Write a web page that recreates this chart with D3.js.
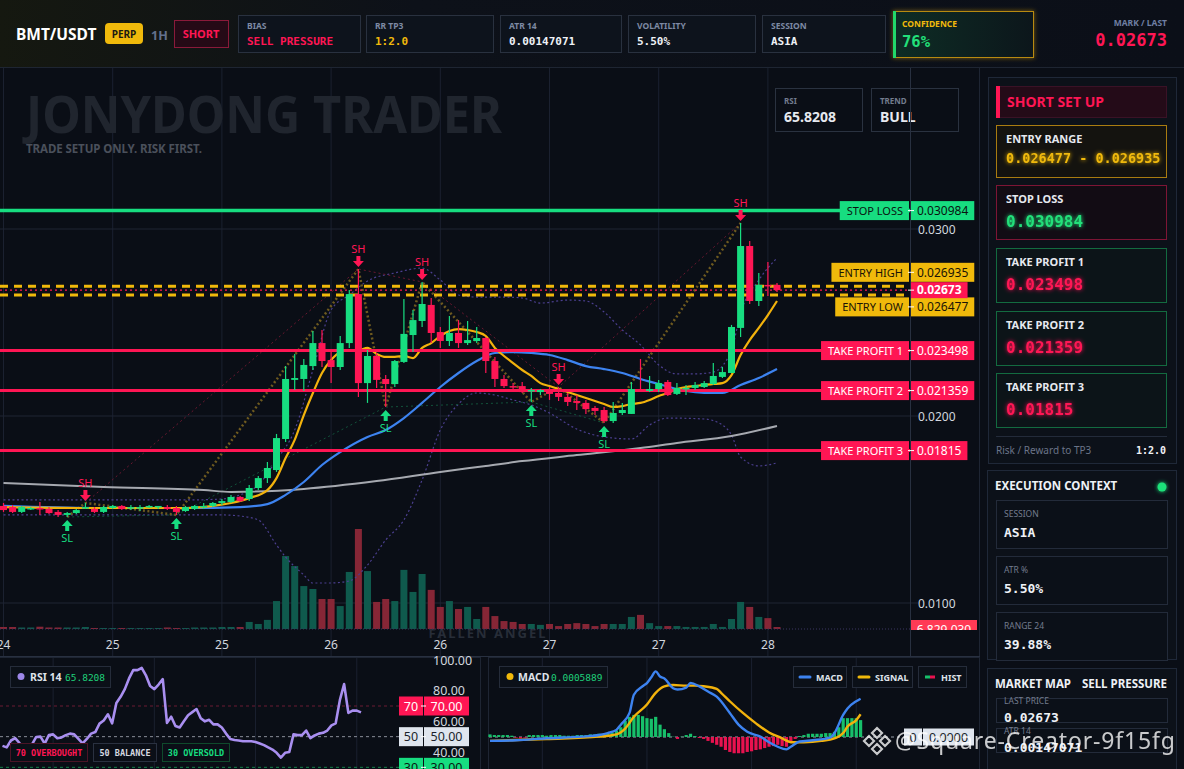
<!DOCTYPE html>
<html>
<head>
<meta charset="utf-8">
<script src="https://cdn.jsdelivr.net/npm/d3@7"></script>
<style>
html, body { margin: 0; padding: 0; background: #0a0e16; overflow: hidden; }
svg { display: block; }
</style>
</head>
<body>
<svg id="chart" width="1184" height="769"></svg>
<script>
// ---- candles (1H), index 0 = 24th 12:00
var opens = [0.01519,0.01513,0.01487,0.01503,0.01508,0.01503,0.01487,0.01471,0.01481,0.01508,
  0.01503,0.01487,0.01508,0.01519,0.01508,0.01508,0.01513,0.01513,0.01513,0.01508,
  0.01492,0.01503,0.01513,0.01519,0.01535,0.01540,0.01567,0.01556,0.01615,0.01668,
  0.01711,0.01877,0.02193,0.02198,0.02267,0.02390,0.02299,0.02262,0.02390,0.02652,
  0.02176,0.02321,0.02198,0.02171,0.02289,0.02433,0.02508,0.02594,0.02449,0.02401,
  0.02444,0.02390,0.02401,0.02417,0.02294,0.02198,0.02160,0.02160,0.02134,0.02128,
  0.02144,0.02123,0.02102,0.02080,0.02070,0.02043,0.02032,0.01973,0.02016,0.02011,
  0.02144,0.02134,0.02144,0.02182,0.02118,0.02144,0.02150,0.02155,0.02171,0.02209,
  0.02230,0.02471,0.02909,0.02615,0.02701,0.02701];
var highs = [0.01535,0.01524,0.01519,0.01513,0.01540,0.01513,0.01497,0.01487,0.01503,0.01535,
  0.01513,0.01519,0.01524,0.01524,0.01524,0.01524,0.01524,0.01519,0.01524,0.01519,
  0.01519,0.01524,0.01535,0.01540,0.01556,0.01578,0.01572,0.01631,0.01679,0.01754,
  0.01904,0.02267,0.02332,0.02305,0.02455,0.02460,0.02353,0.02428,0.02674,0.02786,
  0.02353,0.02337,0.02219,0.02299,0.02626,0.02567,0.02717,0.02631,0.02476,0.02535,
  0.02513,0.02508,0.02476,0.02422,0.02316,0.02219,0.02176,0.02182,0.02150,0.02144,
  0.02155,0.02155,0.02123,0.02112,0.02086,0.02053,0.02048,0.02075,0.02070,0.02182,
  0.02305,0.02214,0.02193,0.02193,0.02176,0.02166,0.02182,0.02187,0.02283,0.02262,
  0.02487,0.03032,0.02936,0.02765,0.02824,0.02711];
var lows = [0.01487,0.01481,0.01481,0.01497,0.01471,0.01476,0.01460,0.01460,0.01476,0.01503,
  0.01481,0.01481,0.01503,0.01497,0.01497,0.01492,0.01508,0.01503,0.01497,0.01471,
  0.01487,0.01497,0.01503,0.01513,0.01524,0.01535,0.01540,0.01545,0.01604,0.01642,
  0.01701,0.01861,0.02139,0.02134,0.02246,0.02262,0.02176,0.02246,0.02364,0.02102,
  0.02070,0.02150,0.02048,0.02155,0.02283,0.02342,0.02476,0.02390,0.02364,0.02374,
  0.02364,0.02380,0.02390,0.02230,0.02155,0.02150,0.02139,0.02123,0.02075,0.02112,
  0.02086,0.02080,0.02053,0.02032,0.02011,0.02005,0.01963,0.01963,0.02005,0.02011,
  0.02134,0.02128,0.02128,0.02107,0.02112,0.02112,0.02139,0.02150,0.02166,0.02203,
  0.02230,0.02422,0.02599,0.02588,0.02642,0.02663];
var closes = [0.01497,0.01487,0.01513,0.01508,0.01503,0.01481,0.01471,0.01481,0.01497,0.01513,
  0.01487,0.01513,0.01519,0.01503,0.01513,0.01513,0.01519,0.01519,0.01503,0.01487,
  0.01513,0.01519,0.01519,0.01535,0.01545,0.01567,0.01545,0.01615,0.01668,0.01722,
  0.01882,0.02198,0.02203,0.02273,0.02390,0.02294,0.02262,0.02390,0.02652,0.02176,
  0.02321,0.02193,0.02171,0.02294,0.02439,0.02513,0.02599,0.02444,0.02401,0.02444,
  0.02390,0.02406,0.02417,0.02294,0.02198,0.02160,0.02155,0.02128,0.02139,0.02139,
  0.02118,0.02102,0.02075,0.02070,0.02037,0.02027,0.01973,0.02016,0.02032,0.02144,
  0.02139,0.02144,0.02176,0.02112,0.02150,0.02150,0.02166,0.02176,0.02214,0.02235,
  0.02476,0.02909,0.02615,0.02701,0.02695,0.02673];
// volume in millions
var volumes = [6.8,6.8,5.1,5.1,7.8,5.1,5.1,5.1,5.1,6.8,3.4,3.4,3.4,3.4,3.4,3.4,3.4,3.4,5.1,3.4,
  3.4,5.1,5.1,5.1,6.8,6.8,6.8,24,17,31,95,248,214,146,136,102,102,78,194,340,
  197,92,102,95,201,126,187,133,75,95,68,75,34,75,44,27,24,17,17,14,
  17,10,17,20,17,10,17,17,17,41,48,20,10,10,10,7,7,7,17,7,
  34,92,75,41,37,6.829];

// moving averages / bands: [candle index, price]
var emaFast = [[0,0.01513],[10,0.01508],[20,0.01508],[23,0.01519],[25,0.01535],[27,0.01561],[29,0.01604],
  [30,0.01668],[31,0.01775],[32,0.01872],[33,0.02005],[34,0.02123],[35,0.02230],[36,0.02299],[37,0.02342],
  [38,0.02353],[39,0.02353],[40,0.02364],[41,0.02332],[42,0.02316],[43,0.02316],[44,0.02321],[45,0.02310],
  [46,0.02364],[47,0.02390],[48,0.02428],[49,0.02455],[50,0.02465],[51,0.02460],[52,0.02449],[53,0.02428],
  [54,0.02364],[55,0.02321],[56,0.02283],[57,0.02246],[58,0.02214],[59,0.02176],[60,0.02160],[61,0.02144],
  [62,0.02128],[63,0.02112],[64,0.02096],[65,0.02080],[66,0.02064],[67,0.02048],[68,0.02053],[69,0.02064],
  [70,0.02070],[71,0.02086],[72,0.02107],[73,0.02123],[74,0.02144],[75,0.02155],[76,0.02160],[77,0.02166],
  [78,0.02171],[79,0.02176],[80,0.02219],[81,0.02326],[82,0.02406],[83,0.02471],[84,0.02540],[85,0.02615]];
var emaMid = [[0,0.01519],[10,0.01508],[20,0.01508],[26,0.01513],[29,0.01529],[31,0.01578],[33,0.01647],
  [35,0.01738],[37,0.01807],[40,0.01888],[42,0.01925],[44,0.01989],[46,0.02070],[48,0.02155],[50,0.02230],
  [52,0.02294],[54,0.02337],[56,0.02342],[58,0.02337],[60,0.02326],[62,0.02299],[64,0.02267],[66,0.02251],
  [68,0.02230],[70,0.02198],[72,0.02171],[74,0.02144],[76,0.02128],[78,0.02123],[79,0.02123],[81,0.02166],
  [83,0.02203],[85,0.02251]];
var emaSlow = [[0,0.01642],[11,0.01620],[22,0.01604],[25,0.01594],[33,0.01610],[41,0.01652],[48,0.01701],
  [53,0.01733],[57,0.01759],[63,0.01791],[70,0.01829],[74,0.01856],[80,0.01893],[85,0.01947]];
var bandUpper = [[0,0.01551],[20,0.01551],[24,0.01556],[26,0.01578],[28,0.01631],[30,0.01765],[32,0.01925],
  [34,0.02246],[36,0.02567],[38,0.02647],[40,0.02722],[43,0.02765],[46,0.02791],[48,0.02727],[50,0.02647],
  [52,0.02636],[55,0.02636],[57,0.02631],[59,0.02604],[62,0.02620],[64,0.02615],[66,0.02556],[68,0.02460],
  [70,0.02380],[72,0.02273],[74,0.02225],[76,0.02225],[78,0.02235],[80,0.02353],[81,0.02551],[83,0.02727],
  [85,0.02845]];
var bandLower = [[0,0.01471],[20,0.01471],[24,0.01471],[26,0.01465],[28,0.01444],[30,0.01310],[31,0.01246],
  [33,0.01150],[34,0.01107],[36,0.01107],[38,0.01118],[40,0.01203],[42,0.01337],[44,0.01444],[46,0.01658],
  [48,0.01925],[50,0.02064],[52,0.02123],[54,0.02112],[56,0.02086],[58,0.02059],[60,0.02016],[63,0.01930],
  [66,0.01888],[69,0.01877],[71,0.01952],[73,0.01989],[77,0.01984],[79,0.01952],[80,0.01898],[81,0.01781],
  [83,0.01733],[85,0.01749]];

// swing markers
var shIdx = [9, 39, 46, 61, 81];
var slIdx = [7, 19, 42, 58, 66];

// trade levels
var levelNames = ["STOP LOSS", "ENTRY HIGH", "ENTRY LOW", "TAKE PROFIT 1", "TAKE PROFIT 2", "TAKE PROFIT 3"];
var levelPrices = [0.030984, 0.026935, 0.026477, 0.023498, 0.021359, 0.01815];
var levelText = ["0.030984", "0.026935", "0.026477", "0.023498", "0.021359", "0.01815"];
var lastPrice = 0.02673;

var priceTicks = [0.03, 0.02, 0.01];
var dayTickIdx = [0, 12, 24, 36, 48, 60, 72, 84];
var dayTickLabels = ["24", "25", "25", "26", "26", "27", "27", "28"];
var subGridIdx = [12, 36, 60, 84];

// RSI 14 per candle
var rsi = [44,43,47.5,49,46,40,41,45,49.8,50, 45.5,51,51.5,49,49.5,51,52,51.5,48.5,45.6,
  48.5,52,53,58.5,60.5,64.6,58.7,72,76,81, 88,93.4,93.4,94.8,90,83,81,84,87.5,59,
  63,57,56,60,64,66,68,62,60,61, 58,58,56,52,48.5,47.8,47.5,47,47,47,
  46.5,45.5,44.5,43,41.6,39.5,36.4,39.5,40,51.5, 51,51,54,49,50.8,52,52.5,54,57.4,58.7,
  74,84.3,65.5,67,67,65.8208];
var rsiLevels = [70, 50, 30];
var rsiTicks = [100, 80, 60, 40];

// MACD (x1e-4) read at candle indices
var macdLine = [[0,-0.6],[6,-0.5],[13,-0.2],[21,0.05],[25,0.3],[27,0.6],[29,1.1],[30,1.9],[32,3.7],[33,6.5],
  [35,7.8],[36,8.3],[37,9.2],[38,10.1],[39,9.3],[40,9.0],[42,7.5],[43,7.3],[45,7.6],[46,8.3],[48,7.8],
  [50,7.0],[52,6.2],[55,3.7],[57,1.9],[59,0.8],[62,0.05],[64,-0.8],[66,-1.5],[68,-1.9],[69,-1.5],[71,-0.7],
  [74,-0.5],[78,-0.1],[79,0.6],[81,3.4],[82,4.4],[84,5.5],[85,5.889]];
var signalLine = [[0,-0.6],[13,-0.3],[25,0.05],[29,0.4],[31,1.3],[33,3.1],[36,5.0],[38,6.8],[40,7.8],[42,8.0],
  [45,7.9],[47,7.9],[49,7.8],[52,7.4],[53,6.8],[55,5.5],[58,3.7],[61,2.1],[64,0.7],[67,-0.2],[69,-0.8],
  [72,-0.8],[76,-0.6],[79,-0.2],[81,0.6],[82,1.6],[84,2.6],[85,3.5]];
var macdHist = [0.4,0.3,0.3,0.3,0.3,0.2,-0.1,-0.2,-0.1,0.3, 0.3,0.3,0.3,0.2,0.3,0.3,0.3,0.2,0.2,0.2,
  0.3,0.3,0.3,0.4,0.4,0.5,0.4,0.5,0.7,1.0, 1.5,2.5,3.1,3.4,3.4,3.2,2.9,2.8,3.1,1.9,
  1.2,0.6,0.05,-0.3,0.05,0.3,0.5,0.15,-0.15,-0.3, -0.6,-0.9,-1.2,-1.5,-2.0,-2.3,-2.5,-2.5,-2.5,-2.3,
  -2.2,-2.0,-1.9,-1.7,-1.5,-1.4,-1.2,-1.4,-1.5,-0.9, -0.3,0.15,0.3,0.5,0.5,0.5,0.5,0.6,0.6,0.8,
  1.5,2.9,2.9,2.9,2.9,2.6];

// header + side panel text
var headerLabels = ["BIAS", "RR TP3", "ATR 14", "VOLATILITY", "SESSION"];
var headerValues = ["SELL PRESSURE", "1:2.0", "0.00147071", "5.50%", "ASIA"];
var execLabels = ["SESSION", "ATR %", "RANGE 24"];
var execValues = ["ASIA", "5.50%", "39.88%"];

var GREEN = "#17dd80", RED = "#ff1654", GOLD = "#f0b90b";
var sans = "'Noto Sans', 'DejaVu Sans', sans-serif";
var mono = "'DejaVu Sans Mono', monospace";

var svg = d3.select("#chart");
var defs = svg.append("defs");

var glow = defs.append("filter").attr("id", "glow").attr("x", "-30%").attr("y", "-50%").attr("width", "160%").attr("height", "200%");
glow.append("feGaussianBlur").attr("stdDeviation", 2.2).attr("result", "b");
var gm = glow.append("feMerge");
gm.append("feMergeNode").attr("in", "b");
gm.append("feMergeNode").attr("in", "SourceGraphic");

var hdr = defs.append("linearGradient").attr("id", "hdrGrad");
hdr.append("stop").attr("offset", 0).attr("stop-color", "#151810");
hdr.append("stop").attr("offset", 0.35).attr("stop-color", "#0d1119");
hdr.append("stop").attr("offset", 1).attr("stop-color", "#0b0f18");

var conf = defs.append("linearGradient").attr("id", "confGrad");
conf.append("stop").attr("offset", 0).attr("stop-color", "#0e2d25");
conf.append("stop").attr("offset", 1).attr("stop-color", "#0c161b");

defs.append("clipPath").attr("id", "mainClip").append("rect")
    .attr("x", 0).attr("y", 68).attr("width", 910).attr("height", 562);
defs.append("clipPath").attr("id", "axisClip").append("rect")
    .attr("x", 905).attr("y", 68).attr("width", 75).attr("height", 562);

function rect(g, x, y, w, h, fill, stroke) {
    return g.append("rect").attr("x", x).attr("y", y).attr("width", w).attr("height", h)
        .attr("fill", fill).attr("stroke", stroke || "none").attr("stroke-width", 1);
}
function text(g, x, y, s, size, color, font, weight, anchor) {
    return g.append("text").attr("x", x).attr("y", y).text(s)
        .attr("font-family", font || sans).attr("font-size", size).attr("fill", color)
        .attr("font-weight", weight || "normal").attr("text-anchor", anchor || "start");
}

rect(svg, 0, 0, 1184, 769, "#0a0e16");

// ---- header bar
rect(svg, 0, 0, 1184, 67, "url(#hdrGrad)");
svg.append("line").attr("x1", 0).attr("x2", 1184).attr("y1", 67.5).attr("y2", 67.5).attr("stroke", "#1e2532");
text(svg, 16, 40, "BMT/USDT", 15.5, "#ffffff", sans, "bold");
svg.append("rect").attr("x", 105).attr("y", 23).attr("width", 38).attr("height", 21).attr("rx", 4).attr("fill", GOLD);
text(svg, 124, 37.5, "PERP", 10, "#1a1a12", sans, "bold", "middle");
text(svg, 151, 40, "1H", 12.5, "#63708c", sans, "bold");
rect(svg, 174.5, 20.5, 54, 27, "#250a16", "#8a1a3a");
text(svg, 201, 38, "SHORT", 11, RED, sans, "bold", "middle");

var cardX = [238, 366, 500, 628, 762], cardW = [122, 127, 121, 127, 123];
var cardCol = [RED, GOLD, "#eef1f6", "#eef1f6", "#eef1f6"];
headerLabels.forEach(function(l, i) {
    rect(svg, cardX[i] + 0.5, 15.5, cardW[i], 37, "#0d131c", "#29313f");
    text(svg, cardX[i] + 9, 29, l, 8.5, "#7d89a3", sans, "bold");
    text(svg, cardX[i] + 9, 44.5, headerValues[i], 11, cardCol[i], mono, "bold");
});
rect(svg, 893.5, 11.5, 140, 46, "url(#confGrad)", "#b88a10").attr("filter", "url(#glow)");
rect(svg, 893.5, 11.5, 140, 46, "url(#confGrad)", "#b88a10");
rect(svg, 893, 11, 3, 47, "#22d86a");
text(svg, 902, 27, "CONFIDENCE", 8.5, GOLD, sans, "bold");
text(svg, 902, 47, "76%", 15.5, "#22e07a", mono, "bold");
text(svg, 1167, 26, "MARK / LAST", 8.5, "#6f7fa3", sans, "bold", "end");
text(svg, 1167, 46, "0.02673", 17, RED, mono, "bold", "end");

// ---- main chart scales
var xMain = d3.scaleLinear().domain([0, 85]).range([3.5, 777]);
var yPrice = d3.scaleLinear().domain([0.01, 0.03]).range([603, 229]);
var yVol = d3.scaleLinear().domain([0, 340]).range([629, 529]);

var grid = svg.append("g");
dayTickIdx.forEach(function(d) {
    grid.append("line").attr("x1", xMain(d)).attr("x2", xMain(d)).attr("y1", 68).attr("y2", 656)
        .attr("stroke", "#1b2130");
});
priceTicks.forEach(function(p) {
    grid.append("line").attr("x1", 0).attr("x2", 920).attr("y1", yPrice(p)).attr("y2", yPrice(p))
        .attr("stroke", "#1f2533");
});

// watermark
text(svg, 26, 133, "JONYDONG TRADER", 52, "#20252e", sans, "bold").attr("textLength", 476).attr("lengthAdjust", "spacingAndGlyphs");
text(svg, 26, 153, "TRADE SETUP ONLY. RISK FIRST.", 11.5, "#4a505b", sans, "bold").attr("textLength", 176);
text(svg, 488, 638, "FALLEN ANGEL", 13, "#272d38", sans, "bold", "middle").attr("letter-spacing", 2);

// RSI / TREND boxes
[["RSI", "65.8208", 775], ["TREND", "BULL", 871]].forEach(function(b) {
    rect(svg, b[2] + 0.5, 88.5, 87, 43, "#0a0e16", "#2a3240");
    text(svg, b[2] + 9, 104, b[0], 8, "#737c8e", sans, "bold");
    text(svg, b[2] + 9, 122, b[1], 14, "#e6e9ef", sans, "bold");
});

var plot = svg.append("g").attr("clip-path", "url(#mainClip)");

// volume
plot.selectAll(".vol").data(volumes).enter().append("rect")
    .attr("x", function(d, i) { return xMain(i) - 3.5; })
    .attr("y", function(d) { return yVol(d); })
    .attr("width", 7)
    .attr("height", function(d) { return yVol(0) - yVol(d); })
    .attr("fill", function(d, i) { return closes[i] >= opens[i] ? "#0f5a4d" : "#862636"; });
plot.append("line").attr("x1", 0).attr("x2", 910).attr("y1", 629).attr("y2", 629)
    .attr("stroke", "#3a3560").attr("stroke-dasharray", "1,2");

var priceLine = d3.line().x(function(d) { return xMain(d[0]); }).y(function(d) { return yPrice(d[1]); });
var smooth = d3.line().x(function(d) { return xMain(d[0]); }).y(function(d) { return yPrice(d[1]); }).curve(d3.curveMonotoneX);

// bands
[bandUpper, bandLower].forEach(function(b) {
    plot.append("path").attr("d", smooth(b)).attr("fill", "none").attr("stroke", "#4b3f8f")
        .attr("stroke-width", 1.2).attr("stroke-dasharray", "2,2.5");
});

// swing structure lines
var swings = shIdx.map(function(i) { return [i, highs[i]]; })
    .concat(slIdx.map(function(i) { return [i, lows[i]]; }))
    .sort(function(a, b) { return a[0] - b[0]; });
plot.append("path").attr("d", priceLine(shIdx.map(function(i) { return [i, highs[i]]; })))
    .attr("fill", "none").attr("stroke", "#6a1830").attr("stroke-width", 1).attr("stroke-dasharray", "2,3");
plot.append("path").attr("d", priceLine(slIdx.map(function(i) { return [i, lows[i]]; })))
    .attr("fill", "none").attr("stroke", "#12513a").attr("stroke-width", 1).attr("stroke-dasharray", "2,3");
plot.append("path").attr("d", priceLine(swings)).attr("fill", "none").attr("stroke", "#6e5a1f")
    .attr("stroke-width", 2.5).attr("stroke-dasharray", "2,2.5");

// moving averages
plot.append("path").attr("d", smooth(emaSlow)).attr("fill", "none").attr("stroke", "#a6a9b0").attr("stroke-width", 2);
plot.append("path").attr("d", smooth(emaMid)).attr("fill", "none").attr("stroke", "#3d83f0").attr("stroke-width", 2.2);
plot.append("path").attr("d", smooth(emaFast)).attr("fill", "none").attr("stroke", "#f2b20c").attr("stroke-width", 2.2);

// level lines
var levelCol = [GREEN, GOLD, GOLD, RED, RED, RED];
levelPrices.forEach(function(p, i) {
    var l = plot.append("line").attr("x1", 0).attr("x2", 910).attr("y1", yPrice(p)).attr("y2", yPrice(p))
        .attr("stroke", levelCol[i]);
    if (i === 1 || i === 2) l.attr("stroke-width", 3).attr("stroke-dasharray", "8,6");
    else if (i === 0) l.attr("stroke-width", 3.5);
    else l.attr("stroke-width", 3);
});
plot.append("line").attr("x1", 0).attr("x2", 910).attr("y1", yPrice(lastPrice)).attr("y2", yPrice(lastPrice))
    .attr("stroke", RED).attr("stroke-width", 1.3).attr("stroke-dasharray", "2,3");

// candles
var cg = plot.selectAll(".candle").data(closes).enter().append("g");
cg.append("line")
    .attr("x1", function(d, i) { return xMain(i); })
    .attr("x2", function(d, i) { return xMain(i); })
    .attr("y1", function(d, i) { return yPrice(highs[i]); })
    .attr("y2", function(d, i) { return yPrice(lows[i]); })
    .attr("stroke", function(d, i) { return d >= opens[i] ? GREEN : RED; })
    .attr("stroke-width", 1.2);
cg.append("rect")
    .attr("x", function(d, i) { return xMain(i) - 3.5; })
    .attr("y", function(d, i) { return yPrice(Math.max(d, opens[i])); })
    .attr("width", 7)
    .attr("height", function(d, i) { return Math.max(1.5, Math.abs(yPrice(d) - yPrice(opens[i]))); })
    .attr("fill", function(d, i) { return d >= opens[i] ? GREEN : RED; });

// SH / SL markers
shIdx.forEach(function(i) {
    var x = xMain(i), y = yPrice(highs[i]);
    plot.append("path").attr("d", "M-2,-11h4v5h3.5l-5.5,6l-5.5,-6h3.5z")
        .attr("transform", "translate(" + x + "," + (y - 2) + ")").attr("fill", RED);
    text(plot, x, y - 16, "SH", 11, RED, sans, "normal", "middle");
});
slIdx.forEach(function(i) {
    var x = xMain(i), y = yPrice(lows[i]);
    plot.append("path").attr("d", "M-2,11h4v-5h3.5l-5.5,-6l-5.5,6h3.5z")
        .attr("transform", "translate(" + x + "," + (y + 3) + ")").attr("fill", GREEN);
    text(plot, x, y + 25, "SL", 11, GREEN, sans, "normal", "middle");
});

// price axis
var axisG = svg.append("g");
axisG.append("line").attr("x1", 910.5).attr("x2", 910.5).attr("y1", 68).attr("y2", 656).attr("stroke", "#283040");
axisG.append("line").attr("x1", 979.5).attr("x2", 979.5).attr("y1", 68).attr("y2", 656).attr("stroke", "#1e2533");
priceTicks.forEach(function(p) {
    text(axisG, 918, yPrice(p) + 4.5, d3.format(".4f")(p), 12, "#d2d6de");
});
var axClip = svg.append("g").attr("clip-path", "url(#axisClip)");
rect(axClip, 911, 620, 66, 20, "#ff3a55");
text(axClip, 944, 634, "6,829,030", 12, "#ffffff", sans, "normal", "middle");

// level tags, entry tags pushed apart so they do not collide with the last price tag
var lblFill = [GREEN, GOLD, GOLD, RED, RED, RED];
var lblText = ["#0a1410", "#1a1406", "#1a1406", "#ffffff", "#ffffff", "#ffffff"];
var lblShift = [0, -14, 12, 0, 0, 0];
var lg = svg.append("g");
levelPrices.forEach(function(p, i) {
    var y = yPrice(p) + lblShift[i];
    var g = lg.append("g");
    var r = g.append("rect");
    var t = text(g, 903, y + 4.2, levelNames[i], 11, lblText[i], sans, "normal", "end");
    var w = t.node().getComputedTextLength();
    r.attr("x", 909 - w - 13).attr("y", y - 9.5).attr("width", w + 13).attr("height", 19).attr("fill", lblFill[i]);
    var g2 = lg.append("g");
    var r2 = g2.append("rect");
    var t2 = text(g2, 917, y + 4.2, levelText[i], 12, lblText[i], sans, "normal");
    var w2 = t2.node().getComputedTextLength();
    r2.attr("x", 911).attr("y", y - 9.5).attr("width", w2 + 12).attr("height", 19).attr("fill", lblFill[i]);
    lg.append("line").attr("x1", 908).attr("x2", 914).attr("y1", y).attr("y2", y).attr("stroke", "#ffffff");
});
(function() {
    var y = yPrice(lastPrice);
    var r = lg.append("rect");
    var t = text(lg, 917, y + 4.2, "0.02673", 12, "#ffffff", sans, "bold");
    r.attr("x", 911).attr("y", y - 8).attr("width", t.node().getComputedTextLength() + 12).attr("height", 16).attr("fill", RED);
    lg.append("line").attr("x1", 908).attr("x2", 914).attr("y1", y).attr("y2", y).attr("stroke", "#ffffff");
})();

// time axis
svg.append("line").attr("x1", 0).attr("x2", 980).attr("y1", 656.5).attr("y2", 656.5).attr("stroke", "#283040");
dayTickIdx.forEach(function(d, i) {
    text(svg, xMain(d), 649, dayTickLabels[i], 12, "#d2d6de", sans, "normal", "middle");
});

// ---- RSI panel
var xRsi = d3.scaleLinear().domain([0, 85]).range([2.5, 361]);
var yRsi = d3.scaleLinear().domain([40, 100]).range([752, 660]);
var rp = svg.append("g");
rect(rp, -1, 657.5, 481.5, 120, "#0a0e16", "#1e2533");
subGridIdx.forEach(function(d) {
    rp.append("line").attr("x1", xRsi(d)).attr("x2", xRsi(d)).attr("y1", 658).attr("y2", 769).attr("stroke", "#1b2130");
});
rsiLevels.forEach(function(v, i) {
    rp.append("line").attr("x1", 0).attr("x2", 423).attr("y1", yRsi(v)).attr("y2", yRsi(v))
        .attr("stroke", i === 0 ? "#6b1a33" : (i === 1 ? "#8a8f99" : "#16804a")).attr("stroke-dasharray", "3,3");
});
rp.append("path").datum(rsi)
    .attr("d", d3.line().x(function(d, i) { return xRsi(i); }).y(function(d) { return yRsi(d); }))
    .attr("fill", "none").attr("stroke", "#a98ff0").attr("stroke-width", 2.6).attr("stroke-linejoin", "round");
rsiTicks.forEach(function(v) {
    text(rp, 433, yRsi(v) + 4.5, d3.format(".2f")(v), 12.5, "#d2d6de");
});
var rsiBoxText = ["#ffffff", "#1a1f2b", "#0a1410"];
var rsiBoxFill = [RED, "#dfe5ee", GREEN];
rsiLevels.forEach(function(v, i) {
    var y = yRsi(v);
    rect(rp, 399, y - 9.5, 24, 19, rsiBoxFill[i]);
    rect(rp, 424, y - 9.5, 45, 19, rsiBoxFill[i]);
    text(rp, 411, y + 4.5, String(v), 12.5, rsiBoxText[i], sans, "normal", "middle");
    text(rp, 446.5, y + 4.5, d3.format(".2f")(v), 12.5, rsiBoxText[i], sans, "normal", "middle");
    rp.append("line").attr("x1", 421).attr("x2", 426).attr("y1", y).attr("y2", y).attr("stroke", "#ffffff");
});
rect(rp, 10.5, 666.5, 100, 21, "#0b1018", "#252c3a");
rp.append("circle").attr("cx", 21).attr("cy", 676.5).attr("r", 3.5).attr("fill", "#9d87e8");
text(rp, 30, 680.5, "RSI 14", 10.5, "#dfe3ea", sans, "bold");
text(rp, 65, 680.5, "65.8208", 9.5, "#1fd17a", mono, "normal");
[["70 OVERBOUGHT", 10, 77, RED, "#4a1426"], ["50 BALANCE", 93, 63, "#d5d9e0", "#2a3140"], ["30 OVERSOLD", 162, 67, GREEN, "#0f4a2c"]]
    .forEach(function(b) {
        rect(rp, b[1] + 0.5, 743.5, b[2], 18, "#0b0f17", b[4]);
        text(rp, b[1] + b[2] / 2 + 0.5, 756, b[0], 8.5, b[3], mono, "bold", "middle");
    });

// ---- MACD panel
var xMacd = d3.scaleLinear().domain([0, 85]).range([490, 860.6]);
var yMacd = d3.scaleLinear().domain([0, 10]).range([737, 672]);
var mp = svg.append("g");
rect(mp, 488.5, 657.5, 491, 120, "#0a0e16", "#1e2533");
subGridIdx.forEach(function(d) {
    mp.append("line").attr("x1", xMacd(d)).attr("x2", xMacd(d)).attr("y1", 658).attr("y2", 769).attr("stroke", "#1b2130");
});
mp.append("line").attr("x1", 489).attr("x2", 904).attr("y1", yMacd(0)).attr("y2", yMacd(0))
    .attr("stroke", "#9aa0aa").attr("stroke-dasharray", "3,3");
mp.selectAll(".hist").data(macdHist).enter().append("rect")
    .attr("x", function(d, i) { return xMacd(i) - 1.6; })
    .attr("y", function(d) { return d >= 0 ? yMacd(d) : yMacd(0); })
    .attr("width", 3.2)
    .attr("height", function(d) { return Math.abs(yMacd(d) - yMacd(0)); })
    .attr("fill", function(d) { return d >= 0 ? "#17c06a" : "#e8124f"; });
var mLine = d3.line().x(function(d) { return xMacd(d[0]); }).y(function(d) { return yMacd(d[1]); }).curve(d3.curveMonotoneX);
mp.append("path").attr("d", mLine(signalLine)).attr("fill", "none").attr("stroke", "#f2b20c").attr("stroke-width", 2.4);
mp.append("path").attr("d", mLine(macdLine)).attr("fill", "none").attr("stroke", "#3d83f0").attr("stroke-width", 2.4);
rect(mp, 904, yMacd(0) - 8.5, 18, 17, "#dfe5ee");
rect(mp, 923, yMacd(0) - 8.5, 51, 17, "#dfe5ee");
text(mp, 913, yMacd(0) + 4.5, "0", 12.5, "#1a1f2b", sans, "normal", "middle");
text(mp, 948.5, yMacd(0) + 4.5, "0.0000", 12.5, "#1a1f2b", sans, "normal", "middle");
rect(mp, 499.5, 666.5, 108, 21, "#0b1018", "#252c3a");
mp.append("circle").attr("cx", 510).attr("cy", 676.5).attr("r", 3.5).attr("fill", GOLD);
text(mp, 518, 680.5, "MACD", 10.5, "#dfe3ea", sans, "bold");
text(mp, 551, 680.5, "0.0005889", 9.5, "#1fd17a", mono, "normal");
[["MACD", 793, 53, "#3d83f0"], ["SIGNAL", 852, 60, GOLD], ["HIST", 918, 48, null]].forEach(function(b) {
    rect(mp, b[1] + 0.5, 666.5, b[2], 21, "#0b1018", "#252c3a");
    if (b[3]) {
        mp.append("line").attr("x1", b[1] + 7).attr("x2", b[1] + 17).attr("y1", 677).attr("y2", 677)
            .attr("stroke", b[3]).attr("stroke-width", 3).attr("stroke-linecap", "round");
    } else {
        mp.append("line").attr("x1", b[1] + 7).attr("x2", b[1] + 12).attr("y1", 677).attr("y2", 677).attr("stroke", "#17c06a").attr("stroke-width", 3);
        mp.append("line").attr("x1", b[1] + 12).attr("x2", b[1] + 17).attr("y1", 677).attr("y2", 677).attr("stroke", "#e8124f").attr("stroke-width", 3);
    }
    text(mp, b[1] + 23, 680.5, b[0], 9, "#dfe3ea", sans, "bold");
});

// ---- right panel: short set up
var sp = svg.append("g");
rect(sp, 988.5, 77.5, 188, 386, "#0c1119", "#1f2838");
rect(sp, 996.5, 86.5, 170, 31, "#240b18", "#3a1226");
rect(sp, 996, 86, 4, 32, RED);
text(sp, 1007, 107, "SHORT SET UP", 14, RED, sans, "bold");

var setupLabels = ["ENTRY RANGE", "STOP LOSS", "TAKE PROFIT 1", "TAKE PROFIT 2", "TAKE PROFIT 3"];
var setupValues = [levelText[2] + " - " + levelText[1], levelText[0], levelText[3], levelText[4], levelText[5]];
var setupTop = [125, 185, 248, 311, 373];
var setupBorder = ["#a97c10", "#7d1535", "#136b40", "#136b40", "#136b40"];
var setupBg = ["#14130f", "#120c14", "#0c1418", "#0c1418", "#0c1418"];
var setupCol = [GOLD, "#22e07a", RED, RED, RED];
setupLabels.forEach(function(l, i) {
    var t = setupTop[i];
    rect(sp, 996.5, t + 0.5, 170, i === 0 ? 52 : 54, setupBg[i], setupBorder[i]);
    text(sp, 1006, t + 18, l, 11, "#e6e9ef", sans, "bold");
    text(sp, 1006, t + (i === 0 ? 38 : 42), setupValues[i], i === 0 ? 13.5 : 16, setupCol[i], mono, "bold")
        .attr("filter", "url(#glow)");
});
sp.append("line").attr("x1", 996).attr("x2", 1167).attr("y1", 436.5).attr("y2", 436.5).attr("stroke", "#232b3a");
text(sp, 996, 454, "Risk / Reward to TP3", 10, "#6b7488", sans, "normal");
text(sp, 1166, 454, "1:2.0", 10, "#f0f2f5", mono, "bold", "end");

// execution context
var ep = svg.append("g");
rect(ep, 987.5, 470.5, 189, 189, "#0c1119", "#1f2838");
text(ep, 995, 490, "EXECUTION CONTEXT", 11.5, "#eef1f6", sans, "bold");
ep.append("circle").attr("cx", 1162).attr("cy", 487).attr("r", 4.5).attr("fill", "#1ee27a").attr("filter", "url(#glow)");
execLabels.forEach(function(l, i) {
    var t = 500 + i * 56;
    rect(ep, 996.5, t + 0.5, 171, 48, "#0b1018", "#232b3a");
    text(ep, 1004, t + 17, l, 8.5, "#737c8e", sans, "normal");
    text(ep, 1004, t + 37, execValues[i], 13, "#eef1f6", mono, "bold");
});

// market map
var mm = svg.append("g");
rect(mm, 987.5, 668.5, 189, 110, "#0c1119", "#1f2838");
text(mm, 995, 688, "MARKET MAP", 11.5, "#eef1f6", sans, "bold");
text(mm, 1167, 688, "SELL PRESSURE", 11.5, "#eef1f6", sans, "bold", "end");
[["LAST PRICE", "0.02673", 698], ["ATR 14", "0.00147071", 728]].forEach(function(c) {
    rect(mm, 996.5, c[2] + 0.5, 171, 24, "#0b1018", "#232b3a");
    text(mm, 1004, c[2] + 6, c[0], 8.5, "#737c8e", sans, "normal");
    text(mm, 1004, c[2] + 24, c[1], 13, "#eef1f6", mono, "bold");
});

// platform watermark
var wm = svg.append("g").attr("opacity", 0.78);
wm.append("path").attr("d", "M0,-11l5,5l-5,5l-5,-5zM-8,-3l5,5l-5,5l-5,-5zM8,-3l5,5l-5,5l-5,-5zM0,5l5,5l-5,5l-5,-5z")
    .attr("transform", "translate(877,739)").attr("fill", "none").attr("stroke", "#ffffff").attr("stroke-width", 2.2);
text(wm, 895, 749, "@Square-Creator-9f15fg", 23, "#ffffff", sans, "normal").attr("textLength", 280);
</script>
</body>
</html>
